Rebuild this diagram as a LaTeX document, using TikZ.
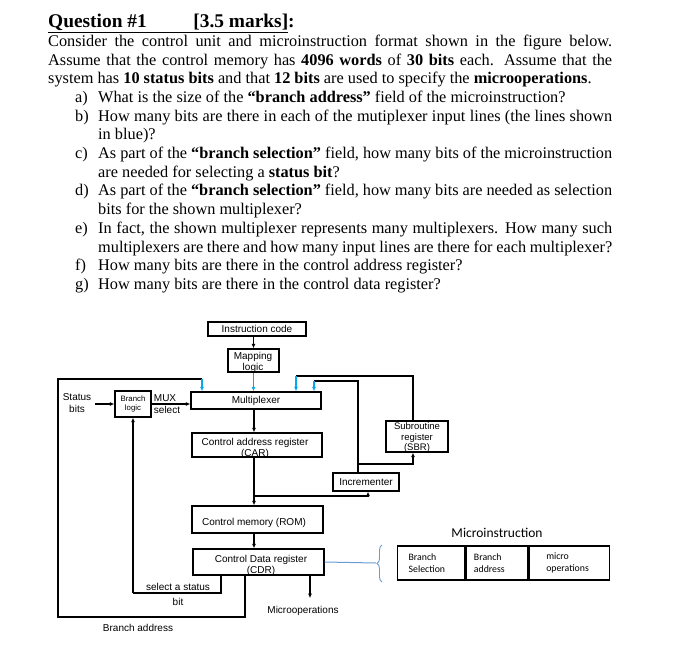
\documentclass[tikz,border=0pt]{standalone}
\usepackage{fontspec}
\setmainfont{Liberation Serif}
\newfontfamily\diagfont{Liberation Sans}
\newfontfamily\calfont{Carlito}
\usepackage{xcolor}
\usepackage{tikz}
\usetikzlibrary{arrows.meta,decorations.pathreplacing}
\definecolor{feedblue}{RGB}{0,170,235}
\definecolor{linkblue}{RGB}{105,155,210}
\newcommand{\qitem}[2]{\par\noindent\hangindent=50pt\hangafter=1\hspace*{27pt}\makebox[23pt][l]{#1}#2}

\begin{document}
\begin{tikzpicture}[x=1pt,y=-1pt,>={Latex[length=4.5pt,width=4pt]},
  box/.style={draw,line width=1.3pt,inner sep=0pt},
  wire/.style={line width=1.3pt},
  feed/.style={line width=1.3pt,feedblue,->},
  lbl/.style={font=\diagfont\fontsize{10}{12}\selectfont,inner sep=0pt},
  cell/.style={draw,line width=1.3pt,anchor=west,minimum height=34,inner ysep=0pt,
    align=left,font=\calfont\fontsize{9.8}{12}\selectfont}]
\useasboundingbox (0,0) rectangle (700,666);

% question text
\node[anchor=north west,inner sep=0pt,text width=564pt,align=justify,
  font=\fontsize{16.3}{18.7}\selectfont] (question) at (48,14) {%
  \hyphenpenalty=10000\relax
  {\fontsize{19.4}{20}\selectfont\bfseries\underline{Question \#1\hspace{2.4em}[3.5 marks]}:}\par
  Consider the control unit and microinstruction format shown in the figure below.\linebreak
  Assume that the control memory has \textbf{4096 words} of \textbf{30 bits} each.
  Assume that the\linebreak system has \textbf{10 status bits} and that \textbf{12 bits} are used
  to specify the \textbf{microoperations}.
  \qitem{a)}{What is the size of the \textbf{“branch address”} field of the microinstruction?}
  \qitem{b)}{How many bits are there in each of the mutiplexer input lines (the lines shown\linebreak in blue)?}
  \qitem{c)}{As part of the \textbf{“branch selection”} field, how many bits of the microinstruction\linebreak are needed for selecting a \textbf{status bit}?}
  \qitem{d)}{As part of the \textbf{“branch selection”} field, how many bits are needed as selection\linebreak bits for the shown multiplexer?}
  \qitem{e)}{In fact, the shown multiplexer represents many multiplexers. How many such\linebreak multiplexers are there and how many input lines are there for each multiplexer?}
  \qitem{f)}{How many bits are there in the control address register?}
  \qitem{g)}{How many bits are there in the control data register?}};

% control unit
\node[box,lbl,minimum width=98,minimum height=14] (instr) at (257,329) {Instruction code};
\node[box,minimum width=51,minimum height=23] (map) at (253.5,360.5) {};
\node[lbl,align=center] (maptxt) at (253,362) {Mapping\\[-1pt]logic};
\node[box,lbl,minimum width=130,minimum height=17] (mux) at (256,400.5) {Multiplexer};
\node[box,minimum width=130,minimum height=24] (car) at (257,445) {};
\node[lbl,align=center] (cartxt) at (255,448.5) {Control address register\\[-1pt](CAR)};
\node[box,minimum width=131,minimum height=27] (rom) at (257.5,519.5) {};
\node[lbl] (romtxt) at (254,523) {Control memory (ROM)};
\node[box,minimum width=131,minimum height=26] (cdr) at (258.5,562) {};
\node[lbl,align=center] (cdrtxt) at (261,565) {Control Data register\\[-1pt](CDR)};
\node[box,minimum width=62,minimum height=31] (sbr) at (417,436.5) {};
\node[lbl,align=center,font=\diagfont\fontsize{9.5}{10.5}\selectfont] (sbrtxt) at (417,438) {Subroutine\\register\\(SBR)};
\node[box,lbl,minimum width=66,minimum height=18] (inc) at (366,482) {Incrementer};
\node[box,minimum width=36,minimum height=26,align=center,
  font=\diagfont\fontsize{7.8}{9.5}\selectfont] (blogic) at (133,404) {Branch\\logic};
\node[lbl,align=center] (status) at (77,403) {Status\\bits};
\node[lbl,align=left] (muxsel) at (167,404) {MUX\\select};
\node[lbl] (microops) at (303,611) {Microoperations};
\node[lbl,align=center] (selbit) at (178,594.5) {select a status\\[3pt]bit};
\node[lbl] (braddr) at (138,628) {Branch address};

\coordinate (jn) at (254,496);
\coordinate (fbinc) at (314,381);
\coordinate (tosbr) at (358,464);
\coordinate (fbsbr) at (296,376);
\coordinate (fbba) at (202,379);
\coordinate (bacorner) at (58,617);
\coordinate (selcorner) at (133,593);

\draw[wire,->] (map.north |- instr.south) -- (map.north);
\draw[feed] (map.south) -- (map.south |- mux.north);
\draw[wire,->] (mux.south -| jn) -- (car.north -| jn);
\draw[wire,->] (car.south -| jn) -- (rom.north -| jn);
\draw[wire,->] (rom.south -| jn) -- (cdr.north -| jn);
\draw[wire,->] (jn) -| ([xshift=2]inc.south);
\draw[wire] ([xshift=-8]inc.north) |- (fbinc);
\draw[feed] (fbinc) -- (fbinc |- mux.north);
\draw[wire,->] (tosbr) -| ([xshift=-4]sbr.south);
\draw[wire] ([xshift=-4]sbr.north) |- (fbsbr);
\draw[feed] (fbsbr) -- (fbsbr |- mux.north);
\draw[wire] ([xshift=-13.5]cdr.south) |- (bacorner) |- (fbba);
\draw[feed] (fbba) -- (fbba |- mux.north);
\draw[wire] ([xshift=-37.5]cdr.south) |- (selcorner);
\draw[wire,->] (selcorner) -- (blogic.south);
\draw[wire,->] ([xshift=51.5]cdr.south) -- ([xshift=51.5]cdr.south |- microops.north) [shorten >=8pt];
\draw[wire,->] ([xshift=4]status.east |- blogic.west) -- (blogic.west);
\draw[wire,->] (blogic.east) -- (blogic.east -| mux.west);

% microinstruction format
\node[font=\calfont\fontsize{13.5}{16}\selectfont] (mititle) at (497,533) {Microinstruction};
\node[cell,text width=45,inner xsep=11] (bsel) at (397,563) {Branch\\Selection};
\node[cell,text width=46,inner xsep=8] (badr) at (bsel.east) {Branch\\address};
\node[cell,text width=46,inner xsep=17] (mops) at (badr.east) {micro\\operations};
\coordinate (brtip) at (376,563);
\draw[linkblue,line width=1pt] (cdr.east) -- (brtip);
\draw[linkblue,line width=0.9pt,decorate,decoration={brace,amplitude=5pt}] (382,582) -- (382,545);
\end{tikzpicture}
\end{document}
